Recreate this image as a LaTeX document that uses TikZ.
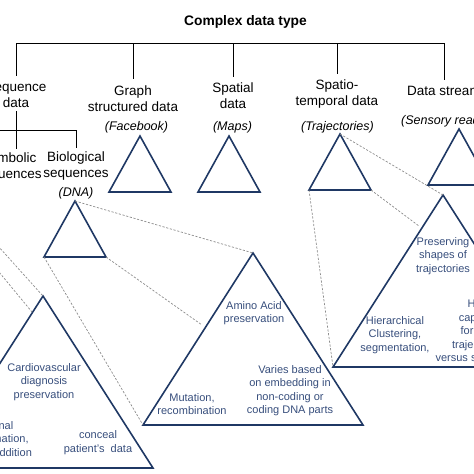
\documentclass[tikz,border=0pt]{standalone}
\usepackage{fontspec}
\setmainfont{Liberation Sans}
\usetikzlibrary{calc}

\definecolor{navy}{RGB}{31,56,100}
\definecolor{slate}{RGB}{55,78,124}

\begin{document}
\begin{tikzpicture}[x=1pt, y=-1pt,
        lbl/.style={align=center, inner sep=0pt, font=\fontsize{13.5}{16}\selectfont},
        ex/.style={inner sep=0pt, font=\fontsize{12.5}{15}\selectfont\itshape},
        txt/.style={align=center, inner sep=0pt, text=slate, font=\fontsize{11}{13.5}\selectfont},
        tri/.style={draw=navy, line width=1.6pt, line join=miter},
        zoom/.style={gray!90, dash pattern=on 2.2pt off 1.6pt, line width=0.7pt}]
        \useasboundingbox (0,0) rectangle (474,474);

        % tree of data types
        \node [font=\fontsize{13.8}{16}\selectfont\bfseries] (complex) at (245.5,22) {Complex data type};
        \node [lbl] (sequence) at (16,94.5) {Sequence\\data};
        \node [lbl] (graph) at (133,98.5) {Graph\\structured data};
        \node [lbl] (spatial) at (233,96) {Spatial\\data};
        \node [lbl] (spatio) at (337,94.5) {Spatio-\\temporal data};
        \node [lbl] (stream) at (444,91) {Data stream};
        \node [lbl] (symbolic) at (9,167) {Symbolic\\sequences};
        \node [lbl] (biological) at (76,166) {Biological\\sequences};

        \node [ex] (facebook) at (136.5,127) {(Facebook)};
        \node [ex] (maps) at (232.5,127) {(Maps)};
        \node [ex] (trajectories) at (337.5,127) {(Trajectories)};
        \node [ex, anchor=west] (sensory) at (401,121) {(Sensory readings)};
        \node [ex] (dna) at (76,193) {(DNA)};

        \coordinate (bar) at (0,43);
        \draw [line width=1pt] (sequence.north |- bar) -- (stream.north |- bar);
        \foreach \n in {sequence, graph, spatial, spatio, stream}
        {
            \draw [line width=1pt, shorten >=6pt] (\n.north |- bar) to (\n.north);
        }
        \coordinate (seqbar) at (-10,130);
        \draw [line width=1pt, shorten <=4pt, shorten >=4pt] (sequence.south) to (sequence.south |- symbolic.north);
        \draw [line width=1pt, shorten >=4pt] (seqbar) -| (biological.north);

        % triangles: apex, base left, base right
        \foreach \n/\x/\y in {fb/140/136, maps/229/136, traj/340/134, sens/459/129, dna/75/201}
        {
            \coordinate (\n-1) at (\x,\y);
            \coordinate (\n-2) at (\x-31,\y+56);
            \coordinate (\n-3) at (\x+31,\y+56);
        }
        \foreach \n/\x/\y in {cardio/43/296, amino/253/253, shape/443/195}
        {
            \coordinate (\n-1) at (\x,\y);
            \coordinate (\n-2) at (\x-110,\y+172);
            \coordinate (\n-3) at (\x+110,\y+172);
        }
        \foreach \n in {fb, maps, traj, sens, dna, cardio, amino, shape}
        {
            \draw [tri] (\n-1) -- (\n-2) -- (\n-3) -- cycle;
        }

        % zoom lines
        \coordinate (sym-1) at (-20,226);
        \coordinate (sym-3) at (-20,249);
        \coordinate (symend) at (32,312);
        \coordinate (dnaend) at (202,325);
        \coordinate (trajend) at (419,226);
        \draw [zoom] (sym-1) to (cardio-1);
        \draw [zoom] (sym-3) to (symend);
        \draw [zoom] (dna-1) to (amino-1);
        \draw [zoom] (dna-2) to (amino-2);
        \draw [zoom] (dna-3) to (dnaend);
        \draw [zoom] (traj-1) to (shape-1);
        \draw [zoom] (traj-2) to (shape-2);
        \draw [zoom] (traj-3) to (trajend);

        % texts in the triangles
        \node [txt] (cardiovascular) at (44,382) {Cardiovascular\\diagnosis\\preservation};
        \node [txt] (signal) at (-2,439) {Signal\\deformation,\\noise addition};
        \node [txt] (conceal) at (98,442.5) {conceal\\patient's\ \ data};
        \node [txt] (aminoacid) at (254,313) {Amino Acid\\preservation};
        \node [txt] (varies) at (290,390.5) {Varies based\\on embedding in\\non-coding or\\coding DNA parts};
        \node [txt] (mutation) at (192,404) {Mutation,\\recombination};
        \node [txt] (preserving) at (443,256) {Preserving\\shapes of\\trajectories};
        \node [txt] (hierarchical) at (395,335) {Hierarchical\\Clustering,\\segmentation,};
        \node [txt] (high) at (479,331) {High\\capacity\\for long\\trajectories\\versus short ones};
\end{tikzpicture}
\end{document}
